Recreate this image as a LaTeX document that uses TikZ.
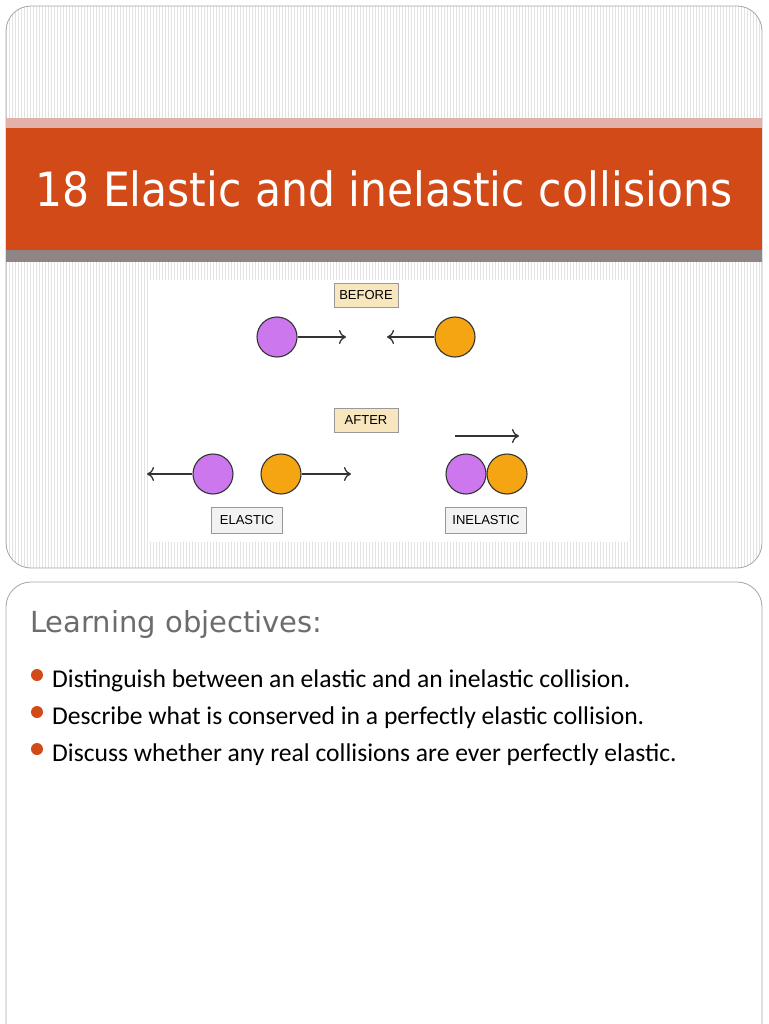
\documentclass[tikz,border=0pt]{standalone}
\usetikzlibrary{arrows.meta}
\usepackage{fontspec}
\setmainfont{DejaVu Sans}
\newfontfamily\condfont{DejaVu Sans Condensed}
\newfontfamily\bodyfont{Carlito}
\newfontfamily\tagfont{Liberation Sans}
\definecolor{orangebar}{HTML}{D24A17}
\definecolor{pinkbar}{HTML}{E3B0AA}
\definecolor{shadowbar}{HTML}{8F8585}
\definecolor{ballp}{HTML}{CC77EE}
\definecolor{ballo}{HTML}{F5A511}
\definecolor{tagfill}{HTML}{F8E6BE}
\tikzset{
  card/.style={draw=gray!70, rounded corners=25pt, line width=0.8pt},
  ball/.style={circle, draw=black!80, line width=1.1pt, minimum size=40pt, inner sep=0pt},
  tagbox/.style={draw=gray!80, line width=1pt, font=\tagfont\fontsize{13}{15}\selectfont, inner sep=0pt},
  mv/.style={-{To[length=7pt,width=14pt]}, line width=1.3pt, black!80},
  bullet/.style={circle, fill=orangebar, inner sep=0pt, minimum size=12pt}
}
\begin{document}
\begin{tikzpicture}[x=1pt,y=-1pt]
\useasboundingbox (0,0) rectangle (768,1024);
% top card with stripes
\begin{scope}
\clip[rounded corners=25pt] (6,6) rectangle (762,568);
\fill[white] (6,6) rectangle (762,568);
\foreach \i in {0,...,252} {\draw[gray!22, line width=0.5pt] (6+3*\i,6) -- (6+3*\i,568);}
\end{scope}
\draw[card] (6,6) rectangle (762,568);
\fill[pinkbar] (6,118) rectangle (762,128);
\fill[orangebar] (6,128) rectangle (762,250);
\fill[shadowbar] (6,250) rectangle (762,262);
\node[anchor=center, text=white, font=\condfont\fontsize{47.2}{52}\selectfont] (title) at (384,189) {18 Elastic and inelastic collisions};
% image panel
\fill[white] (148,280) rectangle (630,542);
\node[tagbox, fill=tagfill, minimum width=64pt, minimum height=24pt] (before) at (366,295) {BEFORE};
\node[tagbox, fill=tagfill, minimum width=64pt, minimum height=24pt] (after) at (366,420) {AFTER};
\node[ball, fill=ballp] (p1) at (277,337) {};
\node[ball, fill=ballo] (o1) at (455,337) {};
\coordinate (p1e) at (346,337);
\coordinate (o1e) at (387,337);
\draw[mv] (p1.east) -- (p1e);
\draw[mv] (o1.west) -- (o1e);
\node[ball, fill=ballp] (p2) at (213,474) {};
\node[ball, fill=ballo] (o2) at (281,474) {};
\coordinate (p2e) at (147,474);
\coordinate (o2e) at (351,474);
\draw[mv] (p2.west) -- (p2e);
\draw[mv] (o2.east) -- (o2e);
\node[ball, fill=ballp] (p3) at (466,474) {};
\node[ball, fill=ballo] (o3) at (507,474) {};
\coordinate (ia) at (455,436);
\coordinate (ib) at (519,436);
\draw[mv] (ia) -- (ib);
\node[tagbox, fill=gray!10, minimum width=71pt, minimum height=26pt] (el) at (247,520) {ELASTIC};
\node[tagbox, fill=gray!10, minimum width=81pt, minimum height=26pt] (inel) at (486,520) {INELASTIC};
% bottom card
\draw[card, fill=white] (6,1040) -- (6,582) -- (762,582) -- (762,1040);
\node[anchor=base west, inner sep=0pt, text=gray!85!black, font=\fontsize{29}{34}\selectfont] (lo) at (30,632) {Learning objectives:};
\foreach \y/\t [count=\k] in {687/{Distinguish between an elastic and an inelastic collision.},
  724/{Describe what is conserved in a perfectly elastic collision.},
  761/{Discuss whether any real collisions are ever perfectly elastic.}} {
  \node[bullet] (b\k) at (37,\y-12) {};
  \node[anchor=base west, inner sep=0pt, font=\bodyfont\fontsize{25.6}{30}\selectfont] (t\k) at (52,\y) {\t};
}
\end{tikzpicture}
\end{document}
